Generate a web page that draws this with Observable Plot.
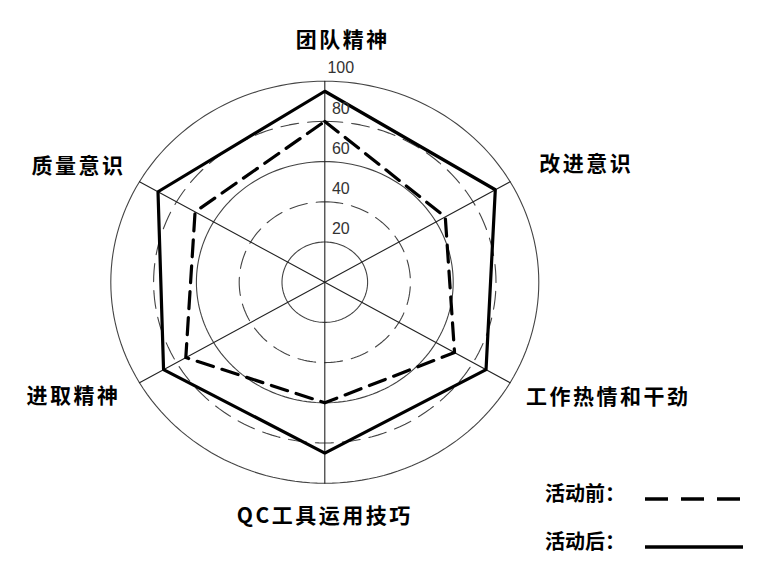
<!DOCTYPE html>
<html>
<head>
<meta charset="utf-8">
<script src="https://cdn.jsdelivr.net/npm/d3@7"></script>
<script src="https://cdn.jsdelivr.net/npm/@observablehq/plot@0.6"></script>
<style>
  html, body { margin: 0; padding: 0; background: #fff; }
  #wrap { position: relative; width: 760px; height: 570px; }
  .leg { position: absolute; left: 545px; font-family: "Noto Sans CJK SC", sans-serif; font-weight: bold; font-size: 20px; color: #000; display: flex; align-items: center; }
  .catlabel text { letter-spacing: 2.5px; }
</style>
</head>
<body>
<div id="wrap"></div>
<script>
// ---- data ----
const categories = ["团队精神", "改进意识", "工作热情和干劲", "QC工具运用技巧", "进取精神", "质量意识"];
const before = [80, 65, 70, 60, 75, 70];   // 活动前
const after  = [95, 92, 87, 85, 87, 90];   // 活动后
const ticks  = [20, 40, 60, 80, 100];
const seriesNames = ["活动前", "活动后"];

// ---- derived ----
const n = categories.length;
const ang = i => (i * 2 * Math.PI) / n;
const pts = (vals, s) => vals.map((v, i) => ({series: s, cat: categories[i], v, a: ang(i)}));
const beforePts = pts(before, seriesNames[0]);
const afterPts = pts(after, seriesNames[1]);

const ringPts = t => d3.range(0, 360, 2).map(deg => ({t, a: deg * Math.PI / 180}));
const solidRings = ticks.filter((t, i) => i % 2 === 0).flatMap(ringPts);
const dashedRings = ticks.filter((t, i) => i % 2 === 1).flatMap(ringPts);
const maxT = d3.max(ticks);
const spokes = categories.flatMap((c, i) => [{c, r: 0, a: ang(i)}, {c, r: maxT, a: ang(i)}]);

const X = d => d.v * Math.sin(d.a);
const Y = d => d.v * Math.cos(d.a);
const RX = d => d.t * Math.sin(d.a);
const RY = d => d.t * Math.cos(d.a);

const labelOffsets = [[18, -41], [76, -17], [98, 15], [0, 33], [-66, 14], [-61, -15]];
const labelMarks = categories.map((c, i) =>
  Plot.text([{c, v: maxT, a: ang(i)}], {
    x: X, y: Y, text: "c", dx: labelOffsets[i][0], dy: labelOffsets[i][1],
    fontSize: 21, fontWeight: "bold", fill: "#000",
    textAnchor: "middle", lineAnchor: "middle",
    fontFamily: "'Noto Sans CJK SC', sans-serif",
    className: "catlabel"
  })
);

const chart = Plot.plot({
  width: 760,
  height: 570,
  margin: 0,
  x: {domain: [-maxT, maxT], range: [110.3, 538.3], axis: null},
  y: {domain: [-maxT, maxT], range: [482.7, 80.7], axis: null},
  style: {background: "#fff"},
  marks: [
    Plot.line(solidRings, {x: RX, y: RY, z: "t", curve: "linear-closed", stroke: "#444", strokeWidth: 1.1}),
    Plot.line(dashedRings, {x: RX, y: RY, z: "t", curve: "linear-closed", stroke: "#444", strokeWidth: 1.1, strokeDasharray: "18,9"}),
    Plot.line(spokes, {x: d => d.r * Math.sin(d.a), y: d => d.r * Math.cos(d.a), z: "c", stroke: "#222", strokeWidth: 1.1}),
    Plot.line(beforePts, {x: X, y: Y, curve: "linear-closed", stroke: "#000", strokeWidth: 3.2, strokeDasharray: "17,9"}),
    Plot.line(afterPts, {x: X, y: Y, curve: "linear-closed", stroke: "#000", strokeWidth: 3.2, strokeLinejoin: "miter"}),
    Plot.text(ticks, {x: 0, y: d => d, text: d => String(d), dx: 16, dy: -13, fontSize: 16, fill: "#333", textAnchor: "middle", lineAnchor: "middle", fontFamily: "'Liberation Sans', Arial, sans-serif"}),
    ...labelMarks
  ]
});

const wrap = document.getElementById("wrap");
wrap.appendChild(chart);

// legend
const legendDefs = [
  {name: seriesNames[0], dash: "23,13", top: 477},
  {name: seriesNames[1], dash: null, top: 525}
];
for (const L of legendDefs) {
  const div = document.createElement("div");
  div.className = "leg";
  div.style.top = L.top + "px";
  const span = document.createElement("span");
  span.textContent = L.name + "：";
  span.style.width = "100px";
  div.appendChild(span);
  const ns = "http://www.w3.org/2000/svg";
  const svg = document.createElementNS(ns, "svg");
  svg.setAttribute("width", "100");
  svg.setAttribute("height", "30");
  const ln = document.createElementNS(ns, "line");
  ln.setAttribute("x1", "0"); ln.setAttribute("x2", "98");
  ln.setAttribute("y1", "22"); ln.setAttribute("y2", "22");
  ln.setAttribute("stroke", "#000");
  ln.setAttribute("stroke-width", "3.5");
  if (L.dash) ln.setAttribute("stroke-dasharray", L.dash);
  svg.appendChild(ln);
  div.appendChild(svg);
  wrap.appendChild(div);
}
</script>
</body>
</html>
